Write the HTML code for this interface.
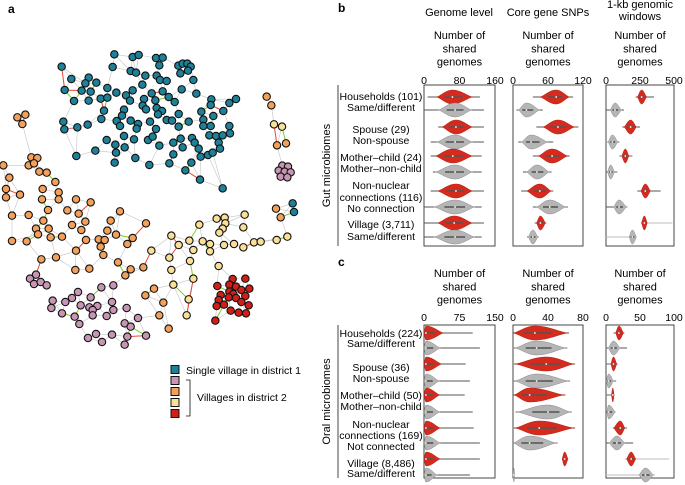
<!DOCTYPE html>
<html><head><meta charset="utf-8"><style>
body{margin:0;background:#fff;}
svg{font-family:"Liberation Sans",Arial,sans-serif;display:block}
</style></head><body>
<svg id="fig" width="685" height="485" viewBox="0 0 685 485">
<g id="net"></g>
<g id="viol"></g>
</svg>
<script>
// ---------- Network data (zoom-crop coordinates, converted below) ----------
const blueTop=[343,103,398,111,416,105,468,114,488,113,185,140,338,141,478,136,535,137,548,131,562,131,572,140,392,153,408,158,436,167,470,167,541,160,564,152,214,177,266,173,256,190,289,188,480,180,500,183,580,180,427,194,194,210,245,212,272,215,322,204,349,218,378,226,398,211,455,220,488,214,545,208,589,221,222,243,266,242,302,236,322,233,390,242,432,237,466,241,506,231,524,246,634,238,688,249,708,237,312,272,372,269,428,257,438,268,470,264,486,273,632,255,670,273,366,287,474,283,500,300,536,282,604,275,640,288,190,305,193,328,232,322,263,314,304,297,350,303,392,302,360,318,414,312,450,305,516,302,566,305,610,299,410,326,468,327,536,320,610,318,632,318,688,318,690,340,372,348,402,358,444,360,458,350,628,346,648,348,668,346,320,360,346,374,374,382,478,377,520,368,542,356,576,354,584,368,656,368,660,386,229,408,286,392,348,398,406,414,520,403,548,382,596,386,602,410,624,405,638,398,344,428,448,435,508,430,556,451,574,428,600,479,668,505,878,550,882,576];
const orangeTop=[52,292,76,284,67,312,800,230,814,256,831,376,858,370,828,566,842,592,94,412,112,414,86,436,102,430,118,455,140,458,10,436,28,473,166,486];
const yellowTop=[822,313,846,320];
const purpleTop=[847,437,864,440,836,452,854,455,872,457,842,470,862,472];
const orangeBot=[18,57,60,74,18,82,128,57,176,67,176,88,126,88,228,88,272,97,36,137,86,135,144,120,202,121,236,131,360,124,438,160,130,152,108,176,146,176,216,165,256,155,332,152,114,193,152,202,186,200,244,180,322,182,348,194,36,213,80,214,258,210,296,208,314,210,302,230,382,222,398,204,228,242,310,255,124,268,168,262,354,277,376,316,392,298,226,300,268,296,430,292,462,356,436,376,490,398,478,436,506,476];
const yellowBot=[598,164,650,146,674,143,734,134,676,160,668,176,658,188,730,172,514,197,568,212,608,214,630,222,672,225,702,222,730,232,762,217,782,215,830,210,862,200,536,225,580,240,630,244,454,242,508,263,570,273,656,288,514,300,520,344,580,326,566,388,560,436];
const redBot=[698,327,736,326,652,348,688,344,708,350,724,360,748,356,662,375,688,365,700,372,686,382,708,384,736,378,656,390,650,408,672,404,724,396,746,406,692,422,716,428,738,430,646,452];
const purpleBot=[108,314,90,326,102,342,122,336,140,346,234,366,216,384,196,396,158,392,154,414,186,430,242,406,268,412,292,408,272,382,304,352,340,346,336,396,320,438,278,420,278,436,224,440,238,462,340,420,380,414,414,444,374,460,392,470,438,497,264,504,288,492,306,516,336,494,382,500,374,524];

// ---------- Violin data ----------
const gutLabels=["Households (101)","Same/different","Spouse (29)","Non-spouse","Mother–child (24)","Mother–non-child","Non-nuclear","connections (116)","No connection","Village (3,711)","Same/different"];
const gutLabelY=[96,107,129,140,157,168,185,197,208,224,236];
const oralLabels=["Households (224)","Same/different","Spouse (36)","Non-spouse","Mother–child (50)","Mother–non-child","Non-nuclear","connections (169)","Not connected","Village (8,486)","Same/different"];
const oralLabelY=[333,343,367,378,395,406,424,435,446,463,473];
const gutTicks=[[0,80,160],[0,60,120],[0,250,500]];
const oralTicks=[[0,75,150],[0,40,80],[0,50,100]];
// each row: center, lo, hi, whiskerLo, whiskerHi
const gutGenome=[[64,28,110,8,126],[70,32,108,0,135],[72,40,110,32,135],[70,28,110,15,135],[65,25,110,15,130],[70,25,110,20,130],[72,30,110,15,135],[70,22,115,0,130],[68,30,110,0,135],[70,22,115,0,130]];
const gutSNP=[[74,46,97,34,103],[23,9,46,6,51],[77,51,106,40,112],[31,14,60,9,69],[67,43,94,34,97],[41,23,63,17,66],[46,23,66,14,69],[63,40,91,34,94],[47,40,56,37,57],[34,26,43,24,44]];
const gutWin=[[262,230,300,218,353],[66,29,115,0,132],[181,132,225,120,250],[47,15,88,10,98],[142,115,169,98,194],[34,10,64,5,83],[289,255,328,230,402],[96,54,152,0,157],[282,260,304,260,488],[194,169,225,0,219]];
const oralGenome=[[4,0,42,0,103],[4,0,35,0,118],[4,0,38,0,88],[4,0,33,0,97],[4,0,34,0,86],[4,0,34,0,103],[4,0,35,0,105],[4,0,35,0,118],[4,0,35,0,118],[4,0,28,0,97]];
const oralSNP=[[25,0,63,0,64],[27,2,61,1,62],[38,2,70,1,71],[27,2,64,1,65],[19,1,59,0,60],[40,4,66,3,67],[30,2,70,1,71],[19,0,50,0,51],[59,56,63,56,63],[1,0,2,0,2]];
const oralWin=[[19,14,26,11,27],[11,3,21,1,31],[11,7,16,1,17],[4,0,11,0,15],[10,8,12,1,12],[4,1,14,0,14],[21,11,28,10,31],[16,4,28,0,40],[37,30,44,28,93],[58,48,70,0,72]];

const NS="http://www.w3.org/2000/svg";
function mk(tag,attrs,parent){const e=document.createElementNS(NS,tag);for(const k in attrs)e.setAttribute(k,attrs[k]);parent.appendChild(e);return e;}
const svg=document.getElementById('fig');
const net=document.getElementById('net');
const viol=document.getElementById('viol');

[["a",8,13],["b",338,12],["c",338,266]].forEach(([t,x,y])=>{
 const e=mk('text',{x:x,y:y,'font-size':12,'font-weight':'bold'},svg);e.textContent=t;
 
 
});

// ---------- Network ----------
const colors={blue:"#1d8199",orange:"#f3a05a",yellow:"#fadf97",purple:"#c895b4",red:"#cf1f17"};
const groups=[[blueTop,'blue',20],[orangeTop,'orange',20],[yellowTop,'yellow',20],[purpleTop,'purple',20],[orangeBot,'orange',170],[yellowBot,'yellow',170],[redBot,'red',170],[purpleBot,'purple',170]];
const nodes=[];
groups.forEach(([arr,col,off])=>{for(let i=0;i<arr.length;i+=2)nodes.push({x:arr[i]/3,y:arr[i+1]/3+off,c:col,g:col});});
const edgeG=mk('g',{},net);


let ec=0;const seen=new Set();
nodes.forEach((n,i)=>{
 const d=nodes.map((m,j)=>[j,Math.hypot(m.x-n.x,m.y-n.y)]).filter(([j,dd])=>j!==i&&dd<38&&(nodes[j].g===n.g||dd<22)).sort((a,b)=>a[1]-b[1]).slice(0,3);
 d.forEach(([j])=>{const key=Math.min(i,j)+'-'+Math.max(i,j);if(seen.has(key))return;seen.add(key);ec++;
  let col='#c4c4c4',w=0.6;if(ec%11===0){col='#86cc2a';w=1}else if(ec%14===0){col='#e8453a';w=1}
  const l=mk('line',{x1:n.x,y1:n.y,x2:nodes[j].x,y2:nodes[j].y,stroke:col,'stroke-width':w},edgeG);
  
  
 });
});
const nodeG=mk('g',{},net);
nodes.forEach(n=>{
 const c=mk('circle',{cx:n.x,cy:n.y,r:3.7,fill:colors[n.c],stroke:'#111','stroke-width':1.1},nodeG);
 
 
});
const leg=mk('g',{},net);


[['blue',370],['purple',381],['orange',392],['yellow',403],['red',414]].forEach(([c,y])=>{
 const r=mk('rect',{x:171,y:y-4.5,width:8,height:8,fill:colors[c],stroke:'#111','stroke-width':1},leg);
 
 
});
const lt1=mk('text',{x:186,y:374,'font-size':10.5},leg);lt1.textContent="Single village in district 1";


mk('path',{d:'M186 380 H190 V416 H186',fill:'none',stroke:'#111','stroke-width':0.8},leg);
const lt2=mk('text',{x:197,y:401,'font-size':10.5},leg);lt2.textContent="Villages in district 2";



// ---------- Violins ----------
const colX=[[424,495],[513,583],[606,674]];
function txt(t,x,y,size,anchor,name,parent){const e=mk('text',{x:x,y:y,'font-size':size,'text-anchor':anchor||'middle'},parent||viol);e.textContent=t;
 
 return e;}
function panel(rowsY,boxTop,boxBot,tickY,ticksAll,dataAll,labels,labelY,title,titleY,headY){
 if(headY!==null){
  txt("Genome level",459,headY+8,11,'middle','column-title-genome-level');
  txt("Core gene SNPs",548,headY+8,11,'middle','column-title-core-gene-snps');
  txt("1-kb genomic",640,headY,11,'middle','column-title-1kb-windows');
  txt("windows",640,headY+12,11,'middle','column-title-1kb-windows-2');
 }
 colX.forEach(([x0,x1],k)=>{
  const cx=(x0+x1)/2;
  ["Number of","shared","genomes"].forEach((s,i)=>txt(s,cx,titleY+i*13.3,11,'middle','x-axis-title'));
  const ticks=ticksAll[k];const max=ticks[ticks.length-1];
  const sx=v=>x0+(x1-x0)*v/max;
  ticks.forEach(t=>txt(String(t),sx(t),tickY,10.5,'middle','x-tick-label'));
  const box=mk('rect',{x:x0,y:boxTop,width:x1-x0,height:boxBot-boxTop,fill:'none',stroke:'#333','stroke-width':0.9},viol);
  
  
  dataAll[k].forEach((r,i)=>{
   const [c,lo,hi,wl,wh]=r;const y=rowsY[i];const red=i%2===0;const h=7;
   const w=mk('line',{x1:sx(wl),y1:y,x2:sx(wh),y2:y,stroke:(k===2&&i>=8)?'#bdbdbd':'#555','stroke-width':0.9},viol);
   
   
   let top=[],bot=[];
   for(let s=0;s<=24;s++){const v=lo+(hi-lo)*s/24;const side=v<c?(c-lo||1):(hi-c||1);const u=(v-c)/side;const wd=h*Math.pow(Math.max(0,1-u*u),1.6);top.push([sx(v),y-wd]);bot.unshift([sx(v),y+wd]);}
   const d='M'+top.concat(bot).map(p=>p[0].toFixed(2)+' '+p[1].toFixed(2)).join(' L')+'Z';
   const p=mk('path',{d:d,fill:red?'#d52a1e':'#b5b5b5',stroke:red?'#b22015':'#8a8a8a','stroke-width':0.5},viol);
   
   
   const q=mk('line',{x1:sx(lo+(c-lo)*0.5),y1:y,x2:sx(c+(hi-c)*0.5),y2:y,stroke:'#555','stroke-width':1.6},viol);
   
   
   const m=mk('circle',{cx:sx(c),cy:y,r:0.9,fill:'#fff'},viol);
   
   
  });
 });
 const lg=mk('g',{},viol);
 labels.forEach((s,i)=>txt(s,381,labelY[i]+4,10.5,'middle','row-label',lg));
 mk('line',{x1:338,y1:boxTop,x2:338,y2:boxBot,stroke:'#333','stroke-width':0.9},viol);
 const t=txt(title,0,0,11,'middle','group-axis-title');t.setAttribute('transform',`translate(330,${(boxTop+boxBot)/2}) rotate(-90)`);
}
panel([97,110,127,142,156,172,191,207,223,237],85,246,84,gutTicks,[gutGenome,gutSNP,gutWin],gutLabels,gutLabelY,"Gut microbiomes",39,8);
panel([333,348,364,381,395,412,428,443,459,475],325,478,321,oralTicks,[oralGenome,oralSNP,oralWin],oralLabels,oralLabelY,"Oral microbiomes",277,null);
</script>
</body></html>
